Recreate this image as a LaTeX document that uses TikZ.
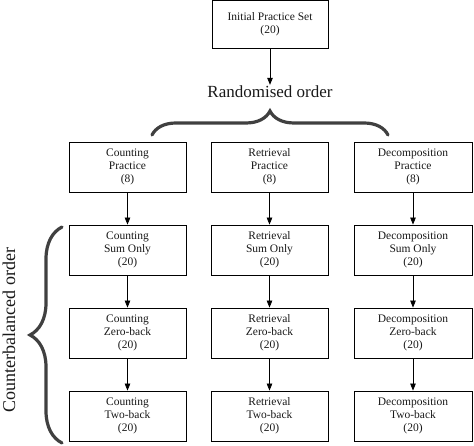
\documentclass[tikz,border=0pt]{standalone}
\usepackage{fontspec}
\setmainfont{Liberation Serif}
\usetikzlibrary{positioning,arrows.meta,decorations.pathreplacing}

\begin{document}
\begin{tikzpicture}[
  x=1pt, y=1pt,
  box/.style={
    rectangle,
    draw=black,
    line width=0.8pt,
    fill=white,
    minimum width=117pt,
    minimum height=50pt,
    align=center,
    text=black!90,
    font=\fontsize{11.5}{13}\selectfont
  },
  bigtext/.style={font=\fontsize{17}{19}\selectfont, text=black!90, inner sep=1pt},
  arrow/.style={-{Triangle[length=7pt,width=5.5pt]}, line width=0.8pt},
  curly/.style={decorate, line width=3.2pt, draw=black!75, line cap=round}
]
  \useasboundingbox (0,0) rectangle (474,446);

  \node[box, minimum width=116pt, minimum height=48pt] (init) at (270,421.5) {Initial Practice Set\\(20)};
  \node[bigtext] (rand) at (270,354) {Randomised order};

  % practice blocks
  \node[box] (cp) at (127.5,279) {Counting\\Practice\\(8)};
  \node[box] (rp) at (269.5,279) {Retrieval\\Practice\\(8)};
  \node[box, minimum width=118pt] (dp) at (413,279) {Decomposition\\Practice\\(8)};

  % sum only
  \node[box] (cs) at (127.5,196) {Counting\\Sum Only\\(20)};
  \node[box] (rs) at (269.5,196) {Retrieval\\Sum Only\\(20)};
  \node[box, minimum width=118pt] (ds) at (413,196) {Decomposition\\Sum Only\\(20)};

  % zero-back
  \node[box] (cz) at (127.5,113) {Counting\\Zero-back\\(20)};
  \node[box] (rz) at (269.5,113) {Retrieval\\Zero-back\\(20)};
  \node[box, minimum width=118pt] (dz) at (413,113) {Decomposition\\Zero-back\\(20)};

  % two-back
  \node[box] (ct) at (127.5,30) {Counting\\Two-back\\(20)};
  \node[box] (rt) at (269.5,30) {Retrieval\\Two-back\\(20)};
  \node[box, minimum width=118pt] (dt) at (413,30) {Decomposition\\Two-back\\(20)};

  \node[bigtext, font=\fontsize{18}{20}\selectfont, rotate=90] (cbo) at (9,116) {Counterbalanced order};

  \coordinate (topL) at (152,311);
  \coordinate (topR) at (388,311);
  \coordinate (sideB) at (62,3);
  \coordinate (sideT) at (62,219);

  \draw[arrow] (init) -- (rand);

  \draw[curly, decoration={brace, amplitude=24pt}] (topL) -- (topR);
  \draw[curly, decoration={brace, amplitude=32pt}] (sideB) -- (sideT);

  \draw[arrow] (cp) -- (cs);
  \draw[arrow] (rp) -- (rs);
  \draw[arrow] (dp) -- (ds);
  \draw[arrow] (cs) -- (cz);
  \draw[arrow] (rs) -- (rz);
  \draw[arrow] (ds) -- (dz);
  \draw[arrow] (cz) -- (ct);
  \draw[arrow] (rz) -- (rt);
  \draw[arrow] (dz) -- (dt);

\end{tikzpicture}
\end{document}
